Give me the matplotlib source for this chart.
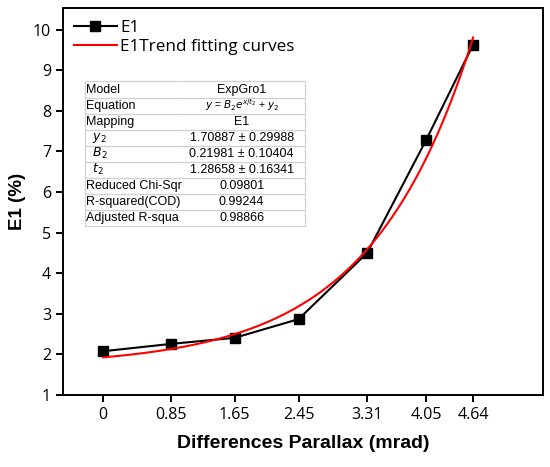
import numpy as np
import matplotlib.pyplot as plt

# data
parallax = [0, 0.85, 1.65, 2.45, 3.31, 4.05, 4.64]
e1 = [2.08, 2.26, 2.41, 2.87, 4.50, 7.28, 9.63]

# ExpGro1 fit parameters
y2 = 1.70887
b2 = 0.21981
t2 = 1.28658

table_names = ["Model", "Equation", "Mapping", r"  $y_2$", r"  $B_2$", r"  $t_2$",
               "Reduced Chi-Sqr", "R-squared(COD)", "Adjusted R-squa"]
table_values = ["ExpGro1", r"$y$ = $B_2e^{x/t_2}$ + $y_2$", "E1",
                "1.70887 ± 0.29988", "0.21981 ± 0.10404", "1.28658 ± 0.16341",
                "0.09801", "0.99244", "0.98866"]

tick_font = "Open Sans"
label_font = "Liberation Sans"

fig = plt.figure(figsize=(5.5, 4.67), dpi=100)
ax = fig.add_axes([0.1145, 0.154, 0.8725, 0.828])

# fitted curve
x_fit = np.linspace(min(parallax), max(parallax), 200)
y_fit = b2 * np.exp(x_fit / t2) + y2

ax.plot(parallax, e1, color='black', linewidth=1.5, marker='s', markersize=6.5, label="E1", zorder=3)
ax.plot(x_fit, y_fit, color='red', linewidth=1.5, label="E1Trend fitting curves", zorder=4)

ax.set_xlim(-0.505, 5.514)
ax.set_ylim(1, 10.52)
ax.set_xticks(parallax)
ax.set_xticklabels(["0", "0.85", "1.65", "2.45", "3.31", "4.05", "4.64"])
ax.set_yticks(range(1, 11))

for spine in ax.spines.values():
    spine.set_linewidth(1.4)
ax.tick_params(direction='out', length=5, width=1.4, labelsize=11.5)
for lab in ax.get_xticklabels() + ax.get_yticklabels():
    lab.set_fontfamily(tick_font)

ax.set_xlabel("Differences Parallax (mrad)", fontsize=14, fontweight='bold', family=label_font, labelpad=9)
ax.set_ylabel("E1 (%)", fontsize=13.5, fontweight='bold', family=label_font, labelpad=5)

# Legend
leg = ax.legend(loc='upper left', frameon=False, prop={'family': tick_font, 'size': 12.3},
                handlelength=2.5, borderaxespad=0.25, labelspacing=0.2, handletextpad=0.2,
                bbox_to_anchor=(0.0, 1.0))

# Fit results table
cell_text = [[n, v] for n, v in zip(table_names, table_values)]
tbl = ax.table(cellText=cell_text, colWidths=[0.425, 0.575], cellLoc='center',
               bbox=[0.046, 0.437, 0.458, 0.374])
tbl.auto_set_font_size(False)
for (row, col), cell in tbl.get_celld().items():
    cell.set_edgecolor('#cfcfcf')
    cell.set_facecolor('none')
    cell.set_linewidth(0.8)
    txt = cell.get_text()
    txt.set_fontfamily(label_font)
    txt.set_fontsize(9)
    txt.set_clip_on(False)
    if col == 0:
        cell.visible_edges = 'BTL'
        cell._loc = 'left'
        txt.set_horizontalalignment('left')
        cell.PAD = 0.015
    else:
        cell.visible_edges = 'BTR'
    if col == 1 and row == 1:
        txt.set_fontsize(7.5)

fig.savefig("out.png", dpi=100)
